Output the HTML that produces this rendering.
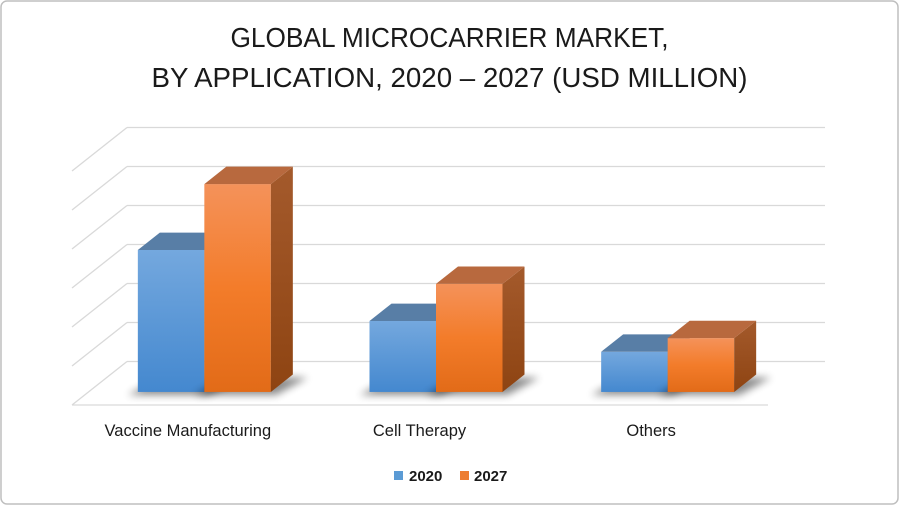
<!DOCTYPE html>
<html><head><meta charset="utf-8"><style>
html,body{margin:0;padding:0;background:#fff;}
svg{display:block;font-family:"Liberation Sans",sans-serif;}
</style></head><body>
<svg id="chart" width="899" height="505" viewBox="0 0 899 505">
<defs>
<linearGradient id="gBlue" x1="0" y1="0" x2="0" y2="1"><stop offset="0" stop-color="#74a8de"/><stop offset="1" stop-color="#4488cf"/></linearGradient>
<linearGradient id="gOrange" x1="0" y1="0" x2="0" y2="1"><stop offset="0" stop-color="#f4925a"/><stop offset="0.5" stop-color="#f37c2a"/><stop offset="1" stop-color="#e26b18"/></linearGradient>
<linearGradient id="gBlueSide" x1="0" y1="0" x2="0" y2="1"><stop offset="0" stop-color="#4e79a8"/><stop offset="1" stop-color="#2f5f95"/></linearGradient>
<linearGradient id="gOrangeSide" x1="0" y1="0" x2="0" y2="1"><stop offset="0" stop-color="#a45a2c"/><stop offset="1" stop-color="#8e4412"/></linearGradient>
<filter id="blur" x="-20%" y="-50%" width="140%" height="200%"><feGaussianBlur stdDeviation="4"/></filter>
</defs>
<rect x="1" y="1" width="897" height="503" rx="6" fill="#fff" stroke="#bfbfbf" stroke-width="1.5"/>
<text x="449.5" y="47" text-anchor="middle" font-size="28" fill="#1a1a1a" textLength="438" lengthAdjust="spacingAndGlyphs">GLOBAL MICROCARRIER MARKET,</text>
<text x="449.5" y="87" text-anchor="middle" font-size="28" fill="#1a1a1a" textLength="596" lengthAdjust="spacingAndGlyphs">BY APPLICATION, 2020 – 2027 (USD MILLION)</text>
<g id="grid"></g>
<g id="bars"></g>
<g id="labels"></g>
<g>
<rect x="394" y="471" width="9" height="9" fill="#5b9bd5"/>
<text x="409" y="481" font-size="15" font-weight="bold" fill="#1a1a1a">2020</text>
<rect x="460" y="471" width="9" height="9" fill="#ed7d31"/>
<text x="474" y="481" font-size="15" font-weight="bold" fill="#1a1a1a">2027</text>
</g>
</svg>
<script>
const categories = ["Vaccine Manufacturing", "Cell Therapy", "Others"];
const values2020 = [364, 182, 103];
const values2027 = [533, 277, 138];
const yTicks = [0, 100, 200, 300, 400, 500, 600];
const NS = "http://www.w3.org/2000/svg";
const X0 = 72, X1 = 767, FRONT = 405, DX = 55, DY = -43.5, UNIT = 39/100;
const yMax = 600;
function mk(tag, attrs, parent){const e=document.createElementNS(NS,tag);for(const k in attrs)e.setAttribute(k,attrs[k]);parent.appendChild(e);return e;}
// value -> y offset above floor at a given depth
function yAt(v, depth){return FRONT + DY*depth - v*UNIT;}
function xCat(i){return X0 + (X1-X0)/categories.length*(i+0.5);}
const grid = document.getElementById('grid');
yTicks.forEach((t,i)=>{
  const yf = yAt(t,0), yb = yAt(t,1);
  const l1 = mk('line',{x1:X0,y1:yf,x2:X0+DX,y2:yb,stroke:'#d9d9d9','stroke-width':1.3},grid);
  
  
  const l2 = mk('line',{x1:X0+DX,y1:yb,x2:X1+DX+3,y2:yb,stroke:'#d9d9d9','stroke-width':1.3},grid);
  
  
});
const floor = mk('line',{x1:X0,y1:FRONT,x2:X1+1,y2:FRONT,stroke:'#d9d9d9','stroke-width':1.3},grid);


const bars = document.getElementById('bars');
const BW = 66.5, D0 = 0.3, BD = 0.4;
function drawBar(x, v, front, side, top, name){
  const yb = yAt(0,D0), yt = yAt(v,D0), ox = DX*D0;
  const xl = x, xr = x+BW, ddx = DX*BD, ddy = DY*BD;
  const g = mk('g',{},bars);
  
  
  const sh = mk('polygon',{points:`${xl-10},${yb+3} ${xr+5},${yb+3} ${xr+ddx+15},${yb+ddy+3} ${xl+ddx},${yb+ddy+3}`,fill:'#000',opacity:0.45,filter:'url(#blur)'},g);
  
  
  const f = mk('rect',{x:xl,y:yt,width:BW,height:yb-yt,fill:front},g);
  
  
  const s = mk('polygon',{points:`${xr},${yt} ${xr+ddx},${yt+ddy} ${xr+ddx},${yb+ddy} ${xr},${yb}`,fill:side},g);
  
  
  const t = mk('polygon',{points:`${xl},${yt} ${xl+ddx},${yt+ddy} ${xr+ddx},${yt+ddy} ${xr},${yt}`,fill:top},g);
  
  
}
const labels = document.getElementById('labels');
categories.forEach((c,i)=>{
  const cx = xCat(i) + DX*D0;
  // draw 2027 first? order: 2020 left, 2027 right; draw right bar last so its side overlaps properly
  drawBar(cx-BW, values2020[i], 'url(#gBlue)', 'url(#gBlueSide)', '#587ea6', 'bar-2020-'+i);
  drawBar(cx, values2027[i], 'url(#gOrange)', 'url(#gOrangeSide)', '#b8693e', 'bar-2027-'+i);
  const tx = mk('text',{x:xCat(i),y:436,'text-anchor':'middle','font-size':'16.5',fill:'#1a1a1a'},labels);
  
  
  tx.textContent = c;
});
</script>
</body></html>
